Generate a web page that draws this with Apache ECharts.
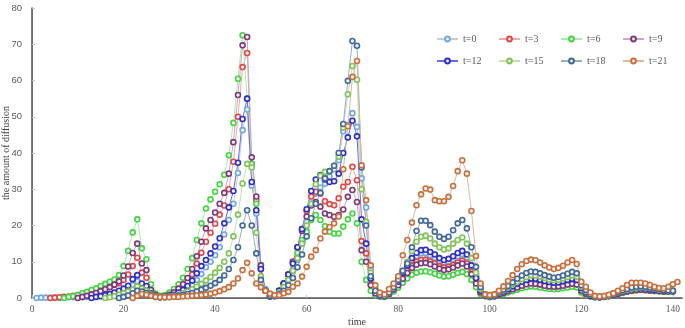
<!DOCTYPE html>
<html>
<head>
<meta charset="utf-8">
<script src="https://cdn.jsdelivr.net/npm/echarts/dist/echarts.min.js"></script>
<style>
  html, body { margin: 0; padding: 0; background: #fff; }
  #chart { width: 685px; height: 328px; }
</style>
</head>
<body>
<div id="chart"></div>
<script>
// series names and the x index each one starts at
var names = ['t=0', 't=3', 't=6', 't=9', 't=12', 't=15', 't=18', 't=21'];
var starts = [1, 4, 7, 10, 13, 16, 19, 22];

// values, one per integer step from the start index
var v0 = [0, 0.1, 0.1, 0.1, 0.1, 0.1, 0.1, 0.2, 0.2, 0.2, 0.2, 0.3, 0.3, 0.4, 0.5, 0.6, 0.8, 1, 1.3, 1.8, 2.5, 3.6, 4.6, 3, 2.4, 1, 0.4,
  0.2, 0.2, 0.4, 0.7, 1.1, 1.7, 2.5, 3.6, 5, 6.6, 8.5, 10, 11.8, 14, 17.5, 21.5, 26, 34.5, 46.3, 52, 31, 23.3, 8.6, 2.5, 0.6,
  0.5, 1.5, 3, 5, 7.5, 10.5, 15, 21, 26, 28.8, 30.5, 31.5, 33.5, 35.5, 38, 46, 47.7, 51, 47.2, 33, 25, 8, 2.5, 0.8, 0.5,
  1.3, 2.7, 4.2, 6.5, 8.3, 10.2, 11.6, 12.3, 12.4, 11.8, 11.1, 10.2, 9.8, 10, 10.7, 11.5, 12.1, 11.2, 8.4, 5.1, 1.9, 0.8, 0.4,
  0.7, 1.2, 1.8, 2.5, 3.2, 3.9, 4.5, 5, 5.3, 5.2, 4.9, 4.6, 4.3, 4.1, 4.2, 4.5, 4.9, 5.2, 4.9, 2.6, 1.6,
  0.7, 0.3, 0.2, 0.4, 0.7, 1, 1.4, 1.8, 2.2, 2.5, 2.7, 2.8, 2.7, 2.5, 2.3, 2.1, 2, 1.9, 1.9];
var v3 = [0, 0.1, 0.2, 0.3, 0.4, 0.6, 0.8, 1, 1.3, 1.6, 2, 2.3, 2.7, 3.1, 3.6, 4.1, 5, 6.5, 8.8, 11.1, 7, 5.6, 2.2, 0.8,
  0.3, 0.4, 0.7, 1.2, 2, 3, 4.5, 6.5, 9.5, 12.5, 15.5, 18, 20.5, 23, 25.5, 30, 37.6, 50, 63.7, 67.6, 37, 27, 8, 2, 0.5,
  0.7, 2, 4, 6.5, 10, 14, 19, 24, 28, 29.3, 28.8, 26.7, 25.9, 25.6, 27.5, 30.7, 32, 36.2, 32.5, 15.7, 12.3, 4, 1.5, 0.6, 0.4,
  1.2, 2.5, 3.8, 5.8, 7.5, 9, 10, 10.5, 10.6, 10.1, 9.5, 8.8, 8.4, 8.6, 9.1, 9.8, 10.3, 9.5, 7.2, 4.4, 1.7, 0.7, 0.4,
  0.6, 1, 1.6, 2.2, 2.8, 3.4, 4, 4.4, 4.7, 4.6, 4.3, 4, 3.8, 3.6, 3.7, 4, 4.3, 4.6, 4.3, 2.3, 1.4,
  0.6, 0.3, 0.2, 0.4, 0.6, 0.9, 1.2, 1.6, 1.9, 2.2, 2.4, 2.5, 2.4, 2.2, 2.1, 1.9, 1.8, 1.8, 1.8];
var v6 = [0, 0.3, 0.5, 0.8, 1.3, 1.7, 2.2, 2.7, 3.3, 3.9, 4.5, 5.1, 6.3, 8.8, 13, 18.1, 21.7, 13.7, 10.7, 3.8, 1.2,
  0.6, 0.8, 1.5, 2.5, 3.8, 5.6, 8, 11, 16, 20.6, 24.7, 27.2, 29.3, 31.4, 34, 39.4, 48.3, 60.5, 72.5, 55, 37, 26, 9, 2, 0.4,
  0.7, 2, 4, 6.5, 9.5, 12.5, 16, 18.3, 21.5, 22.9, 21.5, 19.8, 18.3, 17.8, 17.8, 19.7, 21.7, 23.3, 20.6, 10, 5, 2, 0.8, 0.4, 0.3,
  0.9, 1.8, 2.8, 4.2, 5.4, 6.4, 7, 7.3, 7.4, 7.1, 6.7, 6.2, 5.9, 6, 6.4, 6.9, 7.2, 6.6, 5, 3, 1.1, 0.5, 0.3,
  0.4, 0.7, 1.1, 1.5, 1.9, 2.3, 2.7, 3, 3.2, 3.1, 2.9, 2.7, 2.5, 2.4, 2.5, 2.7, 2.9, 3.1, 2.9, 1.5, 0.9,
  0.4, 0.2, 0.2, 0.3, 0.5, 0.8, 1.1, 1.4, 1.7, 1.9, 2.1, 2.2, 2.1, 2, 1.9, 1.8, 1.7, 1.7, 1.7];
var v9 = [0, 0.3, 0.6, 1, 1.4, 1.9, 2.4, 3, 3.7, 4.6, 6.2, 8.7, 12.4, 15, 9.5, 7.7, 2.2, 0.8,
  0.4, 0.5, 0.9, 1.6, 2.6, 3.8, 5.5, 8, 11.5, 15.5, 19.2, 21.5, 23.6, 26, 29, 34.3, 43, 56, 69.7, 72, 38.8, 28, 9, 2, 0.5,
  0.7, 2, 4, 6.5, 10, 14, 18.5, 22.5, 25.5, 26.5, 25.2, 23.3, 22.9, 22.4, 22.9, 24.4, 27.9, 29.8, 26.5, 13.2, 10, 3.5, 1.3, 0.5, 0.4,
  1.1, 2.3, 3.5, 5.3, 6.9, 8.3, 9.2, 9.6, 9.7, 9.3, 8.7, 8.1, 7.7, 7.9, 8.4, 9, 9.5, 8.7, 6.6, 4, 1.5, 0.6, 0.3,
  0.5, 0.9, 1.4, 1.9, 2.4, 2.9, 3.4, 3.8, 4, 3.9, 3.7, 3.4, 3.2, 3.1, 3.2, 3.4, 3.7, 3.9, 3.7, 2, 1.2,
  0.5, 0.3, 0.2, 0.3, 0.5, 0.8, 1.1, 1.5, 1.8, 2, 2.2, 2.3, 2.2, 2.1, 2, 1.9, 1.8, 1.8, 1.8];
var v12 = [0, 0.3, 0.5, 0.8, 1.1, 1.5, 2, 2.6, 3.4, 5.2, 6.3, 4, 3.3, 1.3, 0.5,
  0.2, 0.3, 0.5, 0.9, 1.5, 2.2, 3.3, 4.8, 6.8, 8.8, 10.5, 12.3, 14.2, 16.5, 20.6, 25, 29.5, 37.3, 49.4, 55, 32, 24.2, 8, 2, 0.4,
  0.6, 2, 4, 6.5, 9.5, 14, 19, 24.5, 29.5, 32.7, 33.9, 32.7, 32, 32.2, 34.3, 40, 44.3, 48.9, 44.6, 21.7, 15, 5.4, 2, 0.7, 0.5,
  1.5, 3, 4.5, 7, 9, 11, 12.5, 13.2, 13.3, 12.7, 12, 11, 10.5, 10.8, 11.5, 12.4, 13, 12, 9, 5.5, 2, 0.8, 0.4,
  0.7, 1.2, 1.8, 2.5, 3.2, 3.9, 4.5, 5, 5.4, 5.3, 5, 4.7, 4.4, 4.2, 4.3, 4.6, 5, 5.3, 5, 2.7, 1.7,
  0.7, 0.3, 0.2, 0.4, 0.7, 1, 1.4, 1.8, 2.2, 2.5, 2.7, 2.8, 2.7, 2.5, 2.3, 2.2, 2.1, 2, 2];
var v15 = [0, 0.2, 0.5, 0.9, 1.3, 1.8, 2.3, 3.2, 2.6, 2, 1, 0.5,
  0.3, 0.3, 0.4, 0.6, 0.9, 1.3, 1.8, 2.4, 3.1, 3.9, 4.8, 5.8, 7, 8.3, 10, 12.3, 17, 23, 31.6, 37, 36, 18, 6, 2, 0.6,
  0.6, 1.5, 3, 5, 7.5, 11, 15, 20, 26, 31.4, 33.7, 34.8, 35, 36.5, 39, 47, 56.2, 64, 60.2, 30, 21, 7, 2.5, 0.8, 0.5,
  1.5, 3, 5, 7.5, 10, 13, 15.5, 16.9, 17.2, 16.4, 15, 14, 13.4, 13.7, 15, 16, 16.7, 15, 11, 7, 2.5, 1, 0.5,
  0.8, 1.4, 2.1, 2.9, 3.7, 4.5, 5.2, 5.8, 6.3, 6.2, 5.9, 5.5, 5.1, 4.9, 5, 5.4, 5.8, 6.2, 5.9, 3.1, 1.9,
  0.9, 0.4, 0.3, 0.4, 0.7, 1.1, 1.5, 1.9, 2.3, 2.6, 2.8, 2.9, 2.9, 2.7, 2.5, 2.3, 2.2, 2.1, 2.1];
var v18 = [0, 0.3, 0.7, 1.3, 2, 1.8, 1.4, 0.8, 0.3,
  0.2, 0.2, 0.3, 0.4, 0.6, 0.8, 1.1, 1.4, 1.8, 2.3, 2.8, 3.4, 4.1, 5, 6.2, 8, 10.5, 14, 20, 24.2, 20, 12.3, 5, 2, 0.6,
  0.5, 1, 2, 3.5, 5.5, 8.5, 12, 17, 22, 26, 29, 33, 35, 36.5, 40, 48, 59.9, 70.9, 69.6, 36, 20, 6, 2, 0.8, 0.5,
  1.5, 3, 5, 7.5, 9.5, 14, 18.5, 21.3, 21.3, 20.1, 18.3, 16.9, 16.3, 16.9, 18.7, 20.6, 21.5, 19.2, 14, 8.6, 3, 1, 0.6,
  0.8, 1.5, 2.3, 3.3, 4.3, 5.3, 6.2, 6.9, 7.3, 7.2, 6.8, 6.3, 5.9, 5.6, 5.8, 6.2, 6.7, 7.2, 6.8, 3.5, 2.2,
  1, 0.4, 0.3, 0.5, 0.8, 1.2, 1.6, 2.1, 2.5, 2.9, 3.1, 3.2, 3.1, 2.9, 2.6, 2.4, 2.2, 2.1, 2];
var v21 = [0, 0.6, 1.1, 0.9, 0.6, 0.3,
  0.2, 0.2, 0.2, 0.3, 0.3, 0.4, 0.5, 0.6, 0.7, 0.8, 1, 1.2, 1.5, 1.9, 2.4, 3, 4, 5.4, 7.7, 9.7, 6.8, 4, 3, 2, 1.2,
  0.8, 0.8, 1.3, 1.7, 3.1, 4, 5.9, 8.6, 11.4, 13.2, 16.4, 18.3, 19.6, 20.6, 22.5, 35.5, 47.4, 61, 65.4, 36.6, 27, 9, 3.5, 1.5, 1,
  2.5, 4, 6, 11.8, 16, 20.8, 25.6, 28.6, 30.2, 29.9, 27, 26.7, 26.7, 27.9, 30.9, 35, 38, 34.3, 24, 11.6, 4, 1, 0.8,
  1, 2, 3.2, 4.7, 6.3, 8, 9.3, 10.2, 10.6, 10.4, 9.8, 9, 8.4, 8, 8.3, 8.9, 9.8, 10.5, 9.4, 4.5, 3.1,
  1.5, 0.6, 0.4, 0.6, 0.9, 1.3, 2, 2.7, 3.6, 4.2, 4.2, 4.2, 4, 3.6, 3.1, 2.75, 2.7, 3.1, 3.8, 4.4];

var values = [v0, v3, v6, v9, v12, v15, v18, v21];

var markColors = ['#72a9dc', '#e04848', '#44d444', '#7e3a78', '#2e2ec8', '#84c25a', '#41699c', '#c8703e'];
var lineColors = ['#c4ccd8', '#f0a8a8', '#a8eca8', '#c8a8c4', '#6a6ae0', '#c4e2ae', '#98acc4', '#dcb89c'];

var serif = "'Liberation Serif', 'Times New Roman', serif";
var sans = "'Liberation Sans Narrow', 'Liberation Sans', sans-serif";

var chart = echarts.init(document.getElementById('chart'));

var series = names.map(function (name, k) {
    return {
        name: name,
        type: 'line',
        data: values[k].map(function (v, i) { return [starts[k] + i, v]; }),
        symbol: 'circle',
        symbolSize: 5,
        lineStyle: { color: lineColors[k], width: 1 },
        itemStyle: { color: '#f4f4f4', borderColor: markColors[k], borderWidth: 1.6 },
        emphasis: { disabled: true }
    };
});

// legend: four columns of two rows
var legendLeft = [431, 493, 555, 617];
var legends = legendLeft.map(function (left, c) {
    return {
        orient: 'vertical',
        left: left,
        top: 27,
        itemWidth: 21,
        itemHeight: 6,
        itemGap: 8,
        textStyle: { fontFamily: serif, fontSize: 10, color: '#595959', lineHeight: 14 },
        data: [names[c], names[c + 4]]
    };
});

chart.setOption({
    animation: false,
    grid: { left: 32, right: 3, top: 8, bottom: 30, containLabel: false, outerBoundsMode: 'none' },
    legend: legends,
    xAxis: [{
        type: 'value',
        min: 0,
        max: 142,
        interval: 20,
        name: 'time',
        nameLocation: 'middle',
        nameGap: 19,
        nameMoveOverlap: false,
        nameTextStyle: { fontFamily: serif, fontSize: 10, color: '#404040' },
        axisLine: { show: true, lineStyle: { color: '#bfbfbf', width: 1 } },
        axisTick: { show: true, inside: true, length: 3, lineStyle: { color: '#bfbfbf' } },
        axisLabel: { fontFamily: serif, fontSize: 9.5, color: '#595959', margin: 6, showMaxLabel: false },
        splitLine: { show: false }
    }, {
        type: 'value',
        position: 'top',
        min: 0,
        max: 142,
        axisLine: { show: true, lineStyle: { color: '#505050', width: 1.5 } },
        axisTick: { show: false },
        axisLabel: { show: false },
        splitLine: { show: false }
    }],
    yAxis: [{
        type: 'value',
        min: 0,
        max: 80,
        interval: 10,
        name: 'the amount of diffusion',
        nameLocation: 'middle',
        nameGap: 21,
        nameMoveOverlap: false,
        nameTextStyle: { fontFamily: serif, fontSize: 10, color: '#404040' },
        axisLine: { show: true, lineStyle: { color: '#bfbfbf', width: 1 } },
        axisTick: { show: true, inside: true, length: 3, lineStyle: { color: '#bfbfbf' } },
        axisLabel: { fontFamily: sans, fontSize: 9.5, color: '#595959', margin: 10 },
        splitLine: { show: false }
    }, {
        type: 'value',
        position: 'right',
        min: 0,
        max: 80,
        axisLine: { show: true, lineStyle: { color: '#505050', width: 1.5 } },
        axisTick: { show: false },
        axisLabel: { show: false },
        splitLine: { show: false }
    }],
    series: series
});
</script>
</body>
</html>
